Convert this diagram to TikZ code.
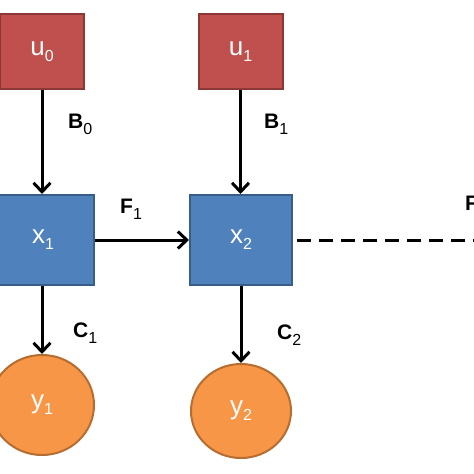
\documentclass[tikz,border=0pt]{standalone}
\usepackage{fontspec}
\setmainfont{Liberation Sans}
\usetikzlibrary{arrows.meta,shapes.geometric}
\newcommand\mysub[1]{\raisebox{-6pt}{\fontsize{16}{16}\selectfont\mdseries #1}}
\definecolor{redfill}{HTML}{C0504D}
\definecolor{redline}{HTML}{8C3836}
\definecolor{bluefill}{HTML}{4F81BD}
\definecolor{blueline}{HTML}{385D8A}
\definecolor{orangefill}{HTML}{F79646}
\definecolor{orangeline}{HTML}{B66D31}
\tikzset{
  inbox/.style={draw=redline, fill=redfill, line width=2pt, minimum width=84pt, minimum height=75pt, inner sep=0pt, text=white, font=\fontsize{26}{26}\selectfont},
  statebox/.style={draw=blueline, fill=bluefill, line width=2pt, minimum width=102pt, minimum height=90pt, inner sep=0pt, text=white, font=\fontsize{26}{26}\selectfont},
  outnode/.style={ellipse, draw=orangeline, fill=orangefill, line width=2pt, inner sep=0pt, text=white, font=\fontsize{26}{26}\selectfont},
  conn/.style={line width=3pt, -{Straight Barb[length=9pt,width=17pt,line width=3pt]}},
  dashconn/.style={line width=3pt, dash pattern=on 14pt off 8pt},
  lab/.style={font=\bfseries\fontsize{21}{21}\selectfont, anchor=base west, inner sep=0pt}
}
\begin{document}
\begin{tikzpicture}[x=1pt,y=-1pt]
\useasboundingbox (0,0) rectangle (474,474);
\node[inbox] (u0) at (42,51.5) {u\mysub{0}};
\node[inbox] (u1) at (240.5,51.5) {u\mysub{1}};
\node[statebox] (x1) at (43,240) {x\mysub{1}};
\node[statebox] (x2) at (241,240) {x\mysub{2}};
\node[outnode, minimum width=104pt, minimum height=100pt] (y1) at (42,405) {y\mysub{1}};
\node[outnode, minimum width=100pt, minimum height=94pt] (y2) at (241,411) {y\mysub{2}};
\coordinate (xend) at (480,240);
\draw[conn] (u0.south) -- (x1.north -| u0.south);
\draw[conn] (u1.south) -- (x2.north -| u1.south);
\draw[conn] (x1.east) -- (x2.west);
\draw[conn] (x1.south -| y1.north) -- (y1.north);
\draw[conn] (x2.south -| y2.north) -- (y2.north);
\draw[dashconn] ([xshift=4pt]x2.east) -- (xend);
\node[lab] (lb0) at (68,128) {B\mysub{0}};
\node[lab] (lb1) at (264,128) {B\mysub{1}};
\node[lab] (lf1) at (120,213) {F\mysub{1}};
\node[lab] (lf2) at (465,210) {F\mysub{2}};
\node[lab] (lc1) at (73,337) {C\mysub{1}};
\node[lab] (lc2) at (277,339) {C\mysub{2}};
\end{tikzpicture}
\end{document}
